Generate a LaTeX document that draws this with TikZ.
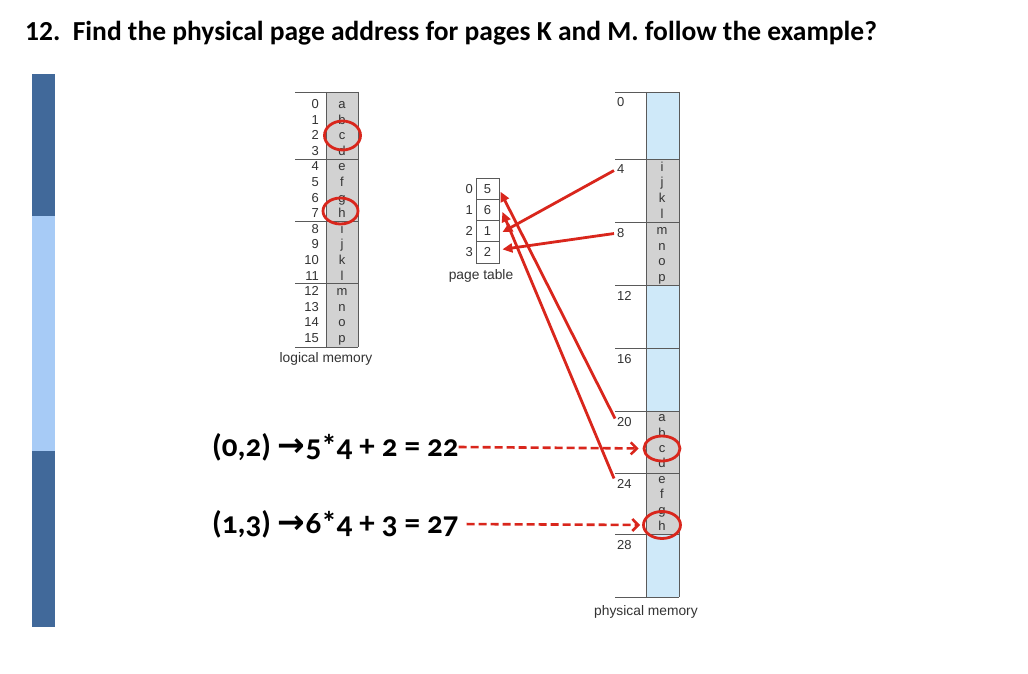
\documentclass[tikz,border=0pt]{standalone}
\usepackage{fontspec}
\setmainfont{Liberation Sans}
\newfontfamily\titlefont{Carlito}
\newfontfamily\exprfont[Numbers=OldStyle]{Carlito}
\newfontfamily\symfont{DejaVu Sans}
\usetikzlibrary{arrows.meta,shapes.geometric}
\definecolor{memgray}{HTML}{D2D2D2}
\definecolor{memblue}{HTML}{CFE9F9}
\definecolor{arrred}{HTML}{D9261C}
\definecolor{bardark}{HTML}{41699A}
\definecolor{barlight}{HTML}{A7CBF6}
\definecolor{gridcol}{HTML}{5A5A5A}
\definecolor{txtcol}{HTML}{333333}
\tikzset{
  memtxt/.style={font=\fontsize{13}{14}\selectfont, text=txtcol, inner sep=0pt, anchor=base},
  numtxt/.style={memtxt, anchor=base east},
  framenum/.style={memtxt, anchor=base west, inner sep=1pt},
  gridline/.style={draw=gridcol, line width=0.8pt},
  ptcell/.style={draw=gridcol, line width=0.8pt, fill=white, minimum width=23pt, minimum height=21.25pt, inner sep=0pt, font=\fontsize{13}{14}\selectfont, text=txtcol},
  caption/.style={font=\fontsize{13.8}{15}\selectfont, text=txtcol, inner sep=0pt},
  redarrow/.style={draw=arrred, line width=2.8pt, -{Triangle[length=10pt,width=9pt]}},
  dasharrow/.style={draw=arrred, line width=2.6pt, dash pattern=on 8pt off 4pt, -{Straight Barb[length=6pt,width=12pt,line width=2.6pt]}},
  hilite/.style={draw=arrred, line width=2.8pt, ellipse, inner sep=0pt},
  exprtxt/.style={font=\exprfont\bfseries\fontsize{31}{33}\selectfont, text=black, inner sep=0pt, anchor=west},
}
\begin{document}
\begin{tikzpicture}[x=1pt,y=-1pt]
\useasboundingbox (0,0) rectangle (1028,674);
\fill[white] (0,0) rectangle (1028,674);

% title
\node[font=\titlefont\bfseries\fontsize{27.5}{29}\selectfont, anchor=west, inner sep=0pt] (title) at (25,33) {12.\ \ Find the physical page address for pages K and M. follow the example?};

% side bar
\fill[bardark] (32,74) rectangle (55,216);
\fill[barlight] (32,216) rectangle (55,451);
\fill[bardark] (32,451) rectangle (55,627);

% ---------- logical memory ----------
\fill[memgray] (326,92) rectangle (358,347);
\foreach \yy in {92,159,221,283,347} \draw[gridline] (295,\yy) -- (358,\yy);
\draw[gridline] (326,92) -- (326,347);
\draw[gridline] (358,92) -- (358,347);
\foreach \i/\l in {0/a,1/b,2/c,3/d,4/e,5/f,6/g,7/h,8/i,9/j,10/k,11/l,12/m,13/n,14/o,15/p}{
  \node[numtxt] (ln\i) at (319,{104+15.6*\i+4.5}) {\i};
  \node[memtxt] (ll\i) at (342,{104+15.6*\i+4.5}) {\l};
}
\node[caption] (lmlabel) at (326,359) {logical memory};
\node[hilite, minimum width=36pt, minimum height=29pt] (cLc) at (342.5,135.5) {};
\node[hilite, minimum width=35pt, minimum height=26pt] (cLh) at (340.5,211) {};

% ---------- page table ----------
\foreach \i/\f in {0/5,1/6,2/1,3/2}{
  \node[ptcell] (pt\i) at (487.5,{178+21.25*\i+10.625}) {\f};
  \node[memtxt, anchor=east] (pi\i) at (473,{178+21.25*\i+10.625}) {\i};
}
\node[caption] (ptlabel) at (481,276) {page table};

% ---------- physical memory ----------
\foreach \a/\b/\c in {92/159/memblue,159/222/memgray,222/285/memgray,285/348/memblue,348/411/memblue,411/473/memgray,473/534/memgray,534/597/memblue}
  \fill[\c] (646,\a) rectangle (679,\b);
\foreach \yy in {92,159,222,285,348,411,473,534,597} \draw[gridline] (615,\yy) -- (679,\yy);
\draw[gridline] (646,92) -- (646,597);
\draw[gridline] (679,92) -- (679,597);
\foreach \n/\yy in {0/92,4/159,8/222,12/285,16/348,20/411,24/473,28/534}
  \node[framenum] (pf\n) at (616,{\yy+15}) {\n};
\foreach \l/\yy in {i/167,j/182,k/198,l/214,m/230,n/246,o/261,p/277,a/417,b/433,c/448,d/463,e/479,f/494,g/510,h/526}
  \node[memtxt] (pm\l) at (662,{\yy+4.5}) {\l};
\node[caption] (pmlabel) at (646,612) {physical memory};
\node[hilite, minimum width=36pt, minimum height=25pt] (cPc) at (662,448.5) {};
\node[hilite, minimum width=37pt, minimum height=27pt] (cPh) at (662,525) {};

% ---------- red arrows ----------
\draw[redarrow] ([shift={(-2,1)}]pf4.west) -- ([shift={(3,1)}]pt2.east);
\draw[redarrow] ([shift={(-2,1)}]pf8.west) -- ([shift={(3,-3)}]pt3.east);
\draw[redarrow] ([shift={(-1,-3)}]pf20.west) -- ([shift={(1,3)}]pt0.east);
\draw[redarrow] ([shift={(-2,-5)}]pf24.west) -- ([shift={(3,2)}]pt1.east);

% ---------- expressions ----------
\node[exprtxt] (ex1) at (212,447) {(0,2) {\symfont\bfseries\fontsize{33}{34}\selectfont →}5*4 + 2 = 22};
\node[exprtxt] (ex2) at (212,524) {(1,3) {\symfont\bfseries\fontsize{33}{34}\selectfont →}6*4 + 3 = 27};
\draw[dasharrow, shorten >=4pt] (ex1.east) -- (cPc.west);
\draw[dasharrow, shorten <=8pt, shorten >=2pt] (ex2.east) -- (cPh.west);
\end{tikzpicture}
\end{document}
